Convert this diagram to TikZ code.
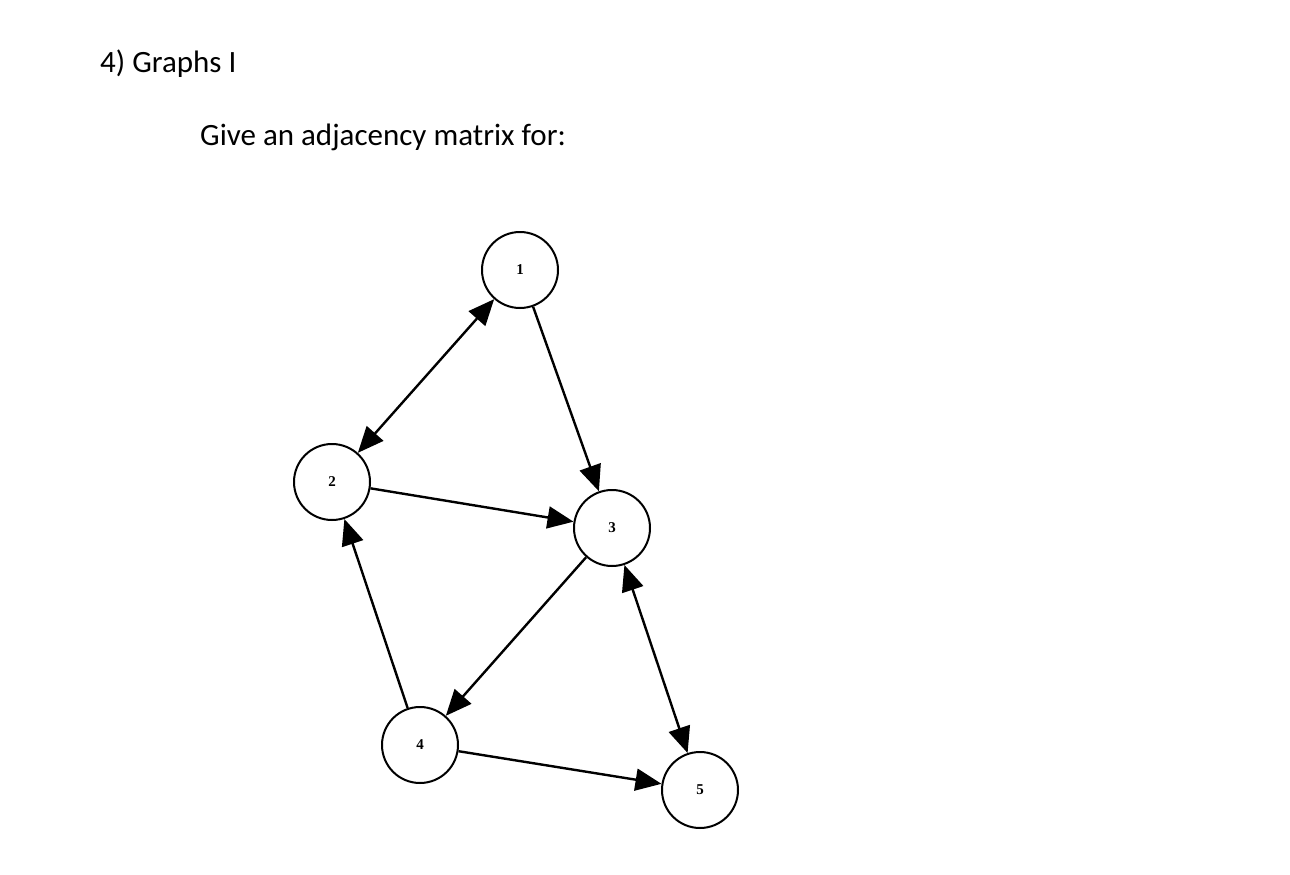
\documentclass[tikz,border=0pt]{standalone}
\usepackage{fontspec}
\setmainfont{Carlito}
\newfontfamily\nodefont{Liberation Serif}
\usetikzlibrary{arrows.meta}
\begin{document}
\begin{tikzpicture}[x=1pt,y=-1pt,
  vtx/.style={circle,draw,line width=2pt,minimum size=76pt,inner sep=0pt,font=\nodefont\bfseries\fontsize{15}{15}\selectfont},
  edge/.style={line width=2.4pt,-{Triangle[length=26pt,width=22pt]}},
  bedge/.style={line width=2.4pt,{Triangle[length=26pt,width=22pt]}-{Triangle[length=26pt,width=22pt]}},
  ttl/.style={anchor=base west,inner sep=0pt,font=\fontsize{31}{31}\selectfont}]
\useasboundingbox (0,0) rectangle (1290,875);
\node[ttl] (t1) at (100,72) {4) Graphs I};
\node[ttl] (t2) at (200,145) {Give an adjacency matrix for:};
\node[vtx] (n1) at (520,270) {1};
\node[vtx] (n2) at (332,482) {2};
\node[vtx] (n3) at (612,528) {3};
\node[vtx] (n4) at (420,745) {4};
\node[vtx] (n5) at (700,790) {5};
\draw[bedge] (n1) -- (n2);
\draw[edge] (n1) -- (n3);
\draw[edge] (n2) -- (n3);
\draw[edge] (n3) -- (n4);
\draw[edge] (n4) -- (n2);
\draw[bedge] (n3) -- (n5);
\draw[edge] (n4) -- (n5);
\end{tikzpicture}
\end{document}
